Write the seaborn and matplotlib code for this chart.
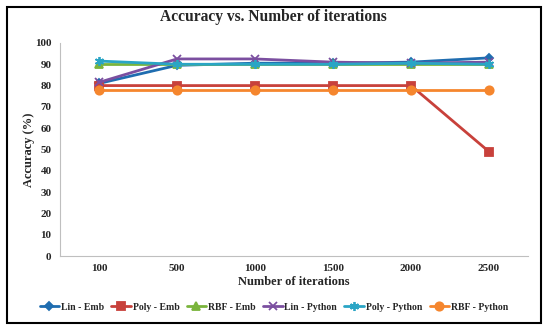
import numpy as np
import pandas as pd
import matplotlib
matplotlib.use("Agg")
import matplotlib.pyplot as plt
import seaborn as sns
from matplotlib.patches import Rectangle

# Data
iterations = ["100", "500", "1000", "1500", "2000", "2500"]
lin_emb = [81, 89.5, 90.5, 90.5, 91, 93]
poly_emb = [80, 80, 80, 80, 80, 49]
rbf_emb = [90, 90, 90, 90, 90, 90]
lin_python = [81.5, 92.5, 92.5, 91, 90.5, 91]
poly_python = [91.5, 90, 90, 90, 90.5, 90]
rbf_python = [78, 78, 78, 78, 78, 78]

series_names = ["Lin - Emb", "Poly - Emb", "RBF - Emb",
                "Lin - Python", "Poly - Python", "RBF - Python"]
series_values = [lin_emb, poly_emb, rbf_emb, lin_python, poly_python, rbf_python]

colors = ["#1f6db0", "#c8413b", "#7ab43c", "#7b4fa0", "#2aa5c5", "#f5862e"]
markers = ["D", "s", "^", "x", (6, 2, 0), "o"]
msizes = [4.5, 5.5, 5.5, 6, 6.5, 6]

pos = np.arange(len(iterations))

sns.set_style("white")
plt.rcParams["font.family"] = ["Liberation Serif", "DejaVu Serif"]
plt.rcParams["font.weight"] = "bold"

fig = plt.figure(figsize=(5.5, 3.33), dpi=100)
ax = fig.add_axes([0.109, 0.231, 0.851, 0.64])

for name, vals, c, m, ms in zip(series_names, series_values, colors, markers, msizes):
    df = pd.DataFrame({"pos": pos, "Accuracy": vals})
    sns.lineplot(data=df, x="pos", y="Accuracy", color=c, marker=m,
                 markersize=ms, markeredgecolor=c, markeredgewidth=1.3,
                 linewidth=2, label=name, ax=ax)

ax.set_xlim(-0.5, len(iterations) - 0.5)
ax.set_ylim(0, 100)
ax.set_yticks(np.arange(0, 101, 10))
ax.set_xticks(pos)
ax.set_xticklabels(iterations)
ax.tick_params(axis="both", labelsize=8, length=0, pad=6)
for lab in ax.get_xticklabels() + ax.get_yticklabels():
    lab.set_fontweight("bold")

for s in ["top", "right"]:
    ax.spines[s].set_visible(False)
for s in ["left", "bottom"]:
    ax.spines[s].set_color("#bfbfbf")
    ax.spines[s].set_linewidth(0.8)

ax.set_xlabel("Number of iterations", fontsize=9, fontweight="bold", labelpad=2)
ax.set_ylabel("Accuracy (%)", fontsize=9, fontweight="bold", labelpad=0)
fig.text(0.497, 0.948, "Accuracy vs. Number of iterations", ha="center",
         va="center", fontsize=11.2, fontweight="bold")

handles, labels = ax.get_legend_handles_labels()
ax.legend(handles, labels, loc="center", bbox_to_anchor=(0.457, -0.24),
          ncol=6, frameon=False, handlelength=2.0,
          handletextpad=0.2, columnspacing=0.75, prop={"weight": "bold", "size": 7})

# border around the figure
fig.patches.append(Rectangle((0.013, 0.03), 0.97, 0.948, transform=fig.transFigure,
                             fill=False, edgecolor="black", linewidth=1.5))

fig.savefig("out.png", dpi=100)
